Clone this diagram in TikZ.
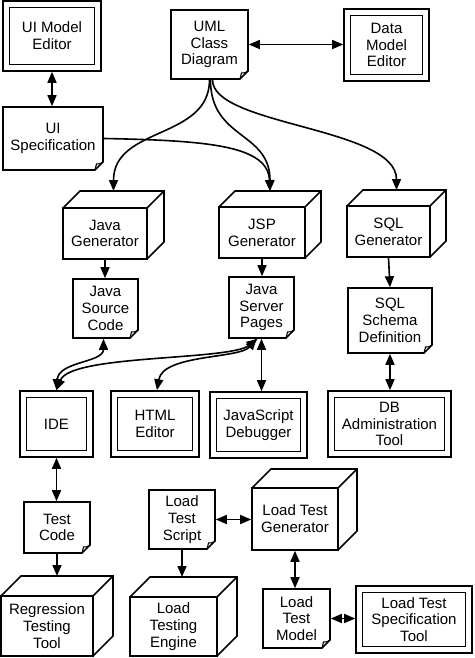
\documentclass[tikz,border=0pt]{standalone}
\usepackage{fontspec}
\setmainfont{Liberation Sans}
\usetikzlibrary{arrows.meta,calc}
\tikzset{
  lbl/.style={inner sep=0pt, align=center, font=\fontsize{15}{16.8}\selectfont},
  arr/.style={-{Triangle[length=11pt,width=9pt]}},
  darr/.style={{Triangle[length=11pt,width=9pt]}-{Triangle[length=11pt,width=9pt]}},
}
% document with folded corner: name, x1, y1, x2, y2, text
\newcommand\mkdoc[6]{%
  \node[lbl, minimum width={(#4-#2)*1pt}, minimum height={(#5-#3)*1pt}] (#1) at ({(#2+#4)/2},{(#3+#5)/2}) {#6};
  \draw (#2,#3) -- (#4,#3) -- (#4,{#5-8}) -- ({#4-8},#5) -- (#2,#5) -- cycle;
  \draw[line width=1.1pt] (#4,{#5-8}) .. controls ({#4-3},{#5-6}) .. ({#4-6.5},{#5-6}) -- ({#4-8},#5);
}
% double-bordered box: name, x1, y1, x2, y2, text
\newcommand\mkdbox[6]{%
  \node[lbl, minimum width={(#4-#2)*1pt}, minimum height={(#5-#3)*1pt}] (#1) at ({(#2+#4)/2},{(#3+#5)/2}) {#6};
  \draw (#2,#3) rectangle (#4,#5);
  \draw ({#2+6.5},{#3+6.5}) rectangle ({#4-6.5},{#5-6.5});
}
% cube: name, x1, y1, x2, y2 (front face), depth, text
\newcommand\mkcube[7]{%
  \node[lbl, minimum width={(#4-#2)*1pt}, minimum height={(#5-#3)*1pt}] (#1) at ({(#2+#4)/2},{(#3+#5)/2}) {#7};
  \draw (#2,#3) rectangle (#4,#5);
  \draw (#2,#3) -- ({#2+#6},{#3-#6}) -- ({#4+#6},{#3-#6}) -- ({#4+#6},{#5-#6}) -- (#4,#5);
  \draw (#4,#3) -- ({#4+#6},{#3-#6});
  \coordinate (#1-top) at ({(#2+#4+#6)/2},{#3-#6});
}
\begin{document}
\begin{tikzpicture}[x=1pt,y=-1pt,line width=1.6pt]
\useasboundingbox (0,0) rectangle (474,658);
\fill[white] (0,0) rectangle (474,658);

\mkdbox{uime}{3}{1}{101}{71}{UI Model\\Editor}
\mkdoc{uispec}{3}{107}{103}{170}{UI\\Specification}
\mkdoc{uml}{171}{10}{248}{79}{UML\\Class\\Diagram}
\mkdbox{dme}{344}{9}{429}{81}{Data\\Model\\Editor}

\mkcube{javagen}{63}{208}{147}{259}{17}{Java\\Generator}
\mkcube{jspgen}{219}{207}{305}{258}{16}{JSP\\Generator}
\mkcube{sqlgen}{347}{206}{430}{257}{16}{SQL\\Generator}

\mkdoc{javasrc}{73}{279}{138}{338}{Java\\Source\\Code}
\mkdoc{jsp}{229}{277}{294}{338}{Java\\Server\\Pages}
\mkdoc{schema}{348}{288}{432}{353}{SQL\\Schema\\Definition}

\mkdbox{ide}{20}{391}{93}{457}{IDE}
\mkdbox{html}{111}{391}{199}{457}{HTML\\Editor}
\mkdbox{jsdbg}{210}{392}{307}{458}{JavaScript\\Debugger}
\mkdbox{dba}{328}{391}{451}{457}{DB\\Administration\\Tool}

\mkdoc{testcode}{24}{502}{90}{553}{Test\\Code}
\mkdoc{lts}{149}{490}{215}{549}{Load\\Test\\Script}
\mkcube{ltg}{252}{488}{338}{550}{19}{Load Test\\Generator}
\mkcube{regr}{1}{596}{93}{656}{20}{Regression\\Testing\\Tool}
\mkcube{lte}{130}{597}{217}{656}{20}{Load\\Testing\\Engine}
\mkdoc{ltm}{263}{589}{330}{648}{Load\\Test\\Model}
\mkdbox{ltst}{356}{586}{472}{653}{Load Test\\Specification\\Tool}

% connectors
\draw[darr] (uime.south) -- (uime.south |- uispec.north);
\draw[darr] (uml.east) -- (uml.east -| dme.west);

\draw[arr] (uml.south) .. controls ($(uml.south)+(0,60)$) and ($(javagen-top)+(0,-65)$) .. (javagen-top);
\draw[arr] ([xshift=1pt]uml.south) .. controls ($(uml.south)+(1,60)$) and ($(jspgen-top)+(0,-60)$) .. (jspgen-top);
\draw[arr] ([xshift=3pt]uml.south) .. controls ($(uml.south)+(3,46)$) and ($(sqlgen-top)+(0,-63)$) .. (sqlgen-top);
\draw[arr] (uispec.east) .. controls ($(uispec.east)+(107,2)$) and ($(jspgen-top)+(-2,-45)$) .. (jspgen-top);

\draw[arr] (javagen.south) -- (javagen.south |- javasrc.north);
\draw[arr] (jspgen.south) -- (jspgen.south |- jsp.north);
\draw[arr] (sqlgen.south) -- (schema.north);

\draw[darr] ([xshift=-2pt]javasrc.south) .. controls ($(javasrc.south)+(-2,24)$) and ($(ide.north)+(2,-29)$) .. (ide.north);
\draw[darr] ([xshift=-4pt]jsp.south) .. controls ($(jsp.south)+(-32,22)$) and ($(ide.north)+(14,-36)$) .. (ide.north);
\draw[darr] ([xshift=-5pt]jsp.south) .. controls ($(jsp.south)+(-22,20)$) and ($(html.north)+(8,-36)$) .. ([xshift=2pt]html.north);
\draw[darr] (jsp.south) -- (jsp.south |- jsdbg.north);
\draw[darr] (schema.south) -- (schema.south |- dba.north);

\draw[darr] (ide.south) -- (ide.south |- testcode.north);
\draw[arr] (testcode.south) -- (regr-top);
\draw[arr] (lts.south) -- (lts.south |- lte-top);
\draw[darr] (lts.east) -- (lts.east -| ltg.west);
\draw[darr] (ltg.south) -- (ltg.south |- ltm.north);
\draw[darr] (ltm.east) -- (ltm.east -| ltst.west);
\end{tikzpicture}
\end{document}
